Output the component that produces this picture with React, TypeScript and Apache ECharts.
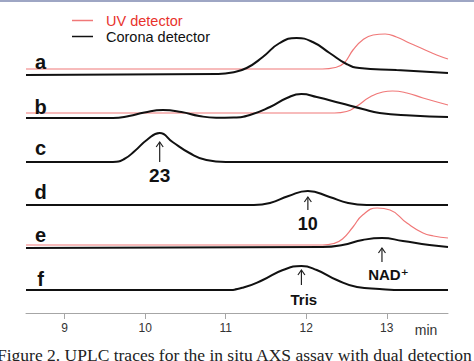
import React, { useEffect, useRef } from "react";
import * as echarts from "echarts";

// x: retention time (min); y: detector signal in arbitrary stacked units
const xTicks = [9, 10, 11, 12, 13];
const traceLetters = ["a", "b", "c", "d", "e", "f"];
const letterT = 8.7;
const letterV = [251, 206, 165, 121, 78, 34];

const uvA: [number, number][] = [
  [8.52, 244], [12.2, 244], [12.36, 245.5], [12.47, 250], [12.58, 263], [12.7, 273], [12.83, 278],
  [12.98, 279], [13.12, 276], [13.28, 270], [13.45, 264], [13.62, 258], [13.76, 254],
];
const coronaA: [number, number][] = [
  [8.52, 238], [10.9, 239], [11.08, 240.5], [11.26, 245], [11.46, 256], [11.67, 270],
  [11.88, 275], [12.08, 271], [12.29, 260], [12.5, 249], [12.66, 245], [13.12, 243], [13.76, 240],
];
const uvB: [number, number][] = [
  [8.52, 200], [12.35, 200], [12.5, 201.5], [12.63, 207], [12.79, 216], [12.95, 221],
  [13.07, 222], [13.25, 220], [13.45, 215], [13.76, 208],
];
const coronaB: [number, number][] = [
  [8.52, 195], [9.6, 195], [9.8, 197], [9.99, 200.5], [10.22, 203], [10.45, 201],
  [10.67, 197], [10.88, 195.3], [11.1, 195.5], [11.3, 198], [11.55, 206], [11.76, 215],
  [11.94, 219], [12.13, 216], [12.42, 210], [12.7, 204], [12.91, 200], [13.3, 197.5], [13.76, 196],
];
const coronaC: [number, number][] = [
  [8.52, 151], [9.6, 151], [9.74, 154], [9.87, 162], [10.02, 173], [10.18, 180], [10.34, 171],
  [10.55, 160], [10.76, 153], [11.0, 151], [13.76, 151],
];
const coronaD: [number, number][] = [
  [8.52, 108], [11.35, 108], [11.55, 110], [11.78, 117], [12.02, 122], [12.29, 116],
  [12.52, 110], [12.75, 108], [13.76, 108],
];
const uvE: [number, number][] = [
  [8.52, 68], [12.2, 68], [12.34, 69.5], [12.45, 74], [12.58, 86], [12.7, 98],
  [12.88, 105], [13.04, 103], [13.25, 90], [13.45, 80], [13.58, 77], [13.76, 75],
];
const coronaE: [number, number][] = [
  [8.52, 65], [12.2, 66], [12.45, 68], [12.7, 73], [12.94, 75], [13.2, 72],
  [13.53, 68], [13.76, 66],
];
const coronaF: [number, number][] = [
  [8.52, 23], [11.0, 23], [11.22, 25.5], [11.46, 33], [11.71, 43], [11.94, 47],
  [12.13, 43], [12.38, 33], [12.63, 26], [12.91, 24], [13.2, 23], [13.76, 23],
];

// peak annotations: arrow at t from tail to head, label position
const peakLabels = ["23", "10", "NAD⁺", "Tris"];
const peakT = [10.18, 12.02, 12.94, 11.94];
const arrowTail = [151, 103, 51, 28];
const arrowHead = [171, 116, 65, 43];
const labelT = [10.18, 12.02, 13.02, 11.97];
const labelV = [138, 89, 39, 14];
const labelFont = [
  'bold 19px "Liberation Sans", Arial, sans-serif',
  'bold 18px "Liberation Sans", Arial, sans-serif',
  'bold 15px "Liberation Sans", "DejaVu Sans", sans-serif',
  'bold 15px "Liberation Sans", Arial, sans-serif',
];

const UV = "UV detector";
const CORONA = "Corona detector";
const RED = "#f07878";
const BLACK = "#111111";

export default function App() {
  const ref = useRef<HTMLDivElement>(null);
  useEffect(() => {
    if (!ref.current) return;
    const chart = echarts.init(ref.current, undefined, { renderer: "svg" });
    const line = (name: string, data: [number, number][], isUV: boolean) => ({
      type: "line",
      name,
      data,
      symbol: "none",
      showSymbol: false,
      smooth: 0.5,
      lineStyle: { color: isUV ? RED : BLACK, width: isUV ? 1.2 : 2 },
      itemStyle: { color: isUV ? RED : BLACK },
      z: isUV ? 2 : 3,
      silent: true,
    });
    chart.setOption({
      animation: false,
      grid: { left: 26, right: 26, top: 13, bottom: 48 },
      legend: {
        orient: "vertical",
        left: 72,
        top: 13,
        padding: 0,
        icon: "rect",
        itemWidth: 21,
        itemHeight: 1.5,
        itemGap: 1,
        data: [
          { name: UV, textStyle: { color: "#e8322c" } },
          { name: CORONA, textStyle: { color: "#111" } },
        ],
        textStyle: {
          fontSize: 14.5,
          fontFamily: '"Liberation Sans", Arial, sans-serif',
          lineHeight: 14,
          padding: [0, 0, 0, 8],
        },
      },
      xAxis: {
        type: "value",
        min: 8.52,
        max: 13.76,
        axisLine: { lineStyle: { color: "#a6a6a6", width: 1 } },
        axisTick: { show: true, length: 6, inside: false, customValues: xTicks, lineStyle: { color: "#a6a6a6" } },
        axisLabel: {
          customValues: xTicks,
          margin: 9,
          fontSize: 12,
          color: "#333",
          fontFamily: '"Liberation Sans", Arial, sans-serif',
        },
        splitLine: { show: false },
      },
      yAxis: { type: "value", min: 0, max: 300, show: false, splitLine: { show: false } },
      graphic: [
        { type: "rect", shape: { x: 0, y: 0, width: 474, height: 2 }, style: { fill: "#9ea6c4" } },
        {
          type: "text",
          x: 426,
          y: 330,
          style: {
            text: "min",
            font: '14px "Liberation Sans", Arial, sans-serif',
            fill: "#333",
            align: "center",
            verticalAlign: "middle",
          },
        },
        {
          type: "text",
          x: -3,
          y: 355,
          style: {
            text: "Figure 2. UPLC traces for the in situ AXS assay with dual detection",
            font: '17.5px "Liberation Serif", "Times New Roman", serif',
            fill: "#222",
            align: "left",
            verticalAlign: "middle",
          },
        },
      ],
      series: [
        line(UV, uvA, true),
        line(CORONA, coronaA, false),
        line(UV, uvB, true),
        line(CORONA, coronaB, false),
        line(CORONA, coronaC, false),
        line(CORONA, coronaD, false),
        line(UV, uvE, true),
        line(CORONA, coronaE, false),
        line(CORONA, coronaF, false),
        {
          type: "custom",
          name: "letters",
          coordinateSystem: "cartesian2d",
          clip: false,
          silent: true,
          z: 5,
          data: traceLetters.map((_, i) => [letterT, letterV[i]]),
          renderItem: (params: any, api: any) => {
            const p = api.coord([api.value(0), api.value(1)]);
            return {
              type: "text",
              x: p[0],
              y: p[1],
              style: {
                text: traceLetters[params.dataIndex],
                font: 'bold 20px "Liberation Sans", Arial, sans-serif',
                fill: "#111",
                align: "center",
                verticalAlign: "middle",
              },
            };
          },
        },
        {
          type: "custom",
          name: "peaks",
          coordinateSystem: "cartesian2d",
          clip: false,
          silent: true,
          z: 5,
          data: peakLabels.map((_, i) => [peakT[i], arrowTail[i], arrowHead[i], labelT[i], labelV[i]]),
          encode: { x: 0, y: 1 },
          renderItem: (params: any, api: any) => {
            const i = params.dataIndex;
            const tail = api.coord([api.value(0), api.value(1)]);
            const head = api.coord([api.value(0), api.value(2)]);
            const lab = api.coord([api.value(3), api.value(4)]);
            return {
              type: "group",
              children: [
                {
                  type: "line",
                  shape: { x1: tail[0], y1: tail[1], x2: head[0], y2: head[1] },
                  style: { stroke: "#222", lineWidth: 1.2 },
                },
                {
                  type: "polyline",
                  shape: {
                    points: [
                      [head[0] - 3.5, head[1] + 5],
                      [head[0], head[1]],
                      [head[0] + 3.5, head[1] + 5],
                    ],
                  },
                  style: { stroke: "#222", lineWidth: 1.2, fill: "none" },
                },
                {
                  type: "text",
                  x: lab[0],
                  y: lab[1],
                  style: {
                    text: peakLabels[i],
                    font: labelFont[i],
                    fill: "#111",
                    align: "center",
                    verticalAlign: "middle",
                  },
                },
              ],
            };
          },
        },
      ],
    });
    return () => chart.dispose();
  }, []);
  return (
    <div
      ref={ref}
      style={{ position: "fixed", left: 0, top: 0, width: 474, height: 361, background: "#fff" }}
    />
  );
}
